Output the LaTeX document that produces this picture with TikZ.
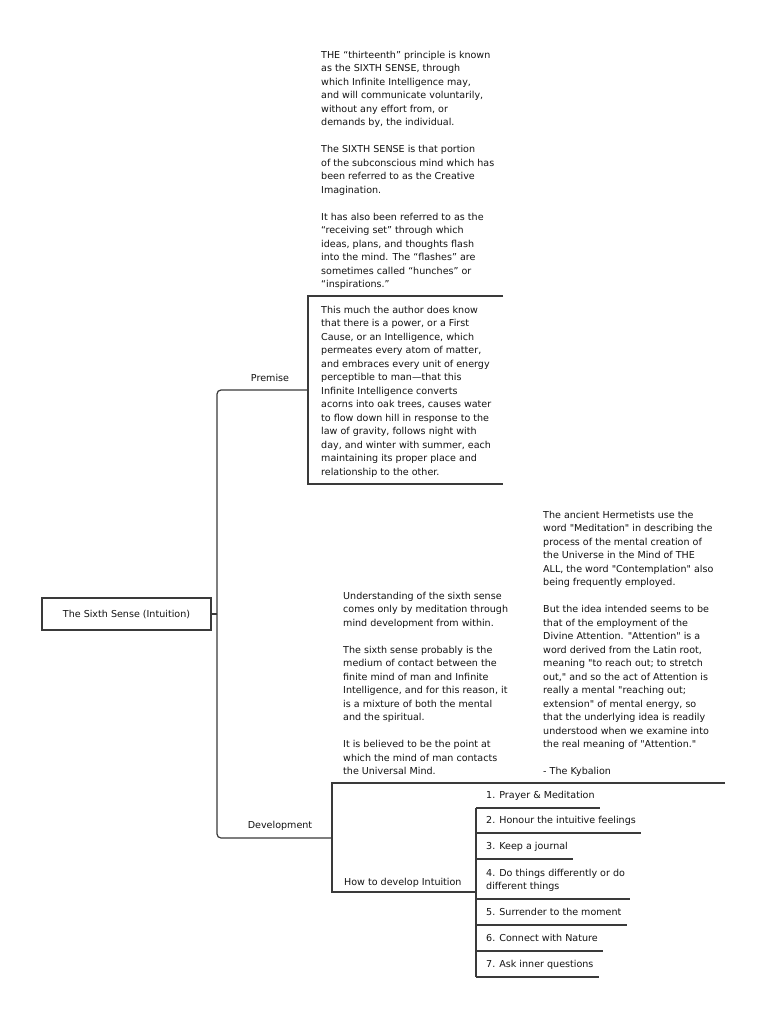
\documentclass[tikz,border=0pt]{standalone}
\usepackage{fontspec}
\setmainfont{DejaVu Sans}
\usepackage{xcolor}
\usetikzlibrary{positioning,calc}
\definecolor{mmLine}{RGB}{58,58,58}
\definecolor{mmText}{RGB}{20,20,20}
\newcommand{\dq}{\textquotedbl}

\begin{document}
\begin{tikzpicture}[
  x=1bp, y=-1bp,
  txt/.style={font=\fontsize{9.6}{13.55}\selectfont, text=mmText, inner sep=0pt},
  note/.style={txt, align=left, anchor=north west},
  rootbox/.style={txt, draw=mmLine, line width=1.2bp, minimum width=169bp, minimum height=32bp},
  lbl/.style={txt, anchor=base},
  item/.style={txt, align=left, anchor=south west, inner xsep=5bp, inner ysep=0pt, text depth=9bp},
  conn/.style={draw=mmLine, line width=1.2bp, rounded corners=4bp}
]
\fill[white] (0,0) rectangle (768,1024);
\useasboundingbox (0,0) rectangle (768,1024);
\node[rootbox] (root) at (126.5,614) {The Sixth Sense (Intuition)};
\node[lbl] (premise) at (270,381) {Premise};
\node[lbl] (development) at (280,828) {Development};
\node[note] (premNote) at (321,50.7) {THE “thirteenth” principle is known\\
as the SIXTH SENSE, through\\
which Infinite Intelligence may,\\
and will communicate voluntarily,\\
without any effort from, or\\
demands by, the individual.\\[13.55bp]
The SIXTH SENSE is that portion\\
of the subconscious mind which has\\
been referred to as the Creative\\
Imagination.\\[13.55bp]
It has also been referred to as the\\
“receiving set” through which\\
ideas, plans, and thoughts flash\\
into the mind. The “flashes” are\\
sometimes called “hunches” or\\
“inspirations.”};
\node[note] (premDetail) at (321,305.7) {This much the author does know\\
that there is a power, or a First\\
Cause, or an Intelligence, which\\
permeates every atom of matter,\\
and embraces every unit of energy\\
perceptible to man—that this\\
Infinite Intelligence converts\\
acorns into oak trees, causes water\\
to flow down hill in response to the\\
law of gravity, follows night with\\
day, and winter with summer, each\\
maintaining its proper place and\\
relationship to the other.};
\node[note] (devNote) at (343,591.7) {Understanding of the sixth sense\\
comes only by meditation through\\
mind development from within.\\[13.55bp]
The sixth sense probably is the\\
medium of contact between the\\
finite mind of man and Infinite\\
Intelligence, and for this reason, it\\
is a mixture of both the mental\\
and the spiritual.\\[13.55bp]
It is believed to be the point at\\
which the mind of man contacts\\
the Universal Mind.};
\node[note] (kybalion) at (543,510.7) {The ancient Hermetists use the\\
word \dq Meditation\dq{} in describing the\\
process of the mental creation of\\
the Universe in the Mind of THE\\
ALL, the word \dq Contemplation\dq{} also\\
being frequently employed.\\[13.55bp]
But the idea intended seems to be\\
that of the employment of the\\
Divine Attention. \dq Attention\dq{} is a\\
word derived from the Latin root,\\
meaning \dq to reach out; to stretch\\
out,\dq{} and so the act of Attention is\\
really a mental \dq reaching out;\\
extension\dq{} of mental energy, so\\
that the underlying idea is readily\\
understood when we examine into\\
the real meaning of \dq Attention.\dq\\[13.55bp]
- The Kybalion};
\node[txt, anchor=base west] (howto) at (344,885) {How to develop Intuition};
\foreach \n/\y/\t in {1/808/{1. Prayer \& Meditation}, 2/833/{2. Honour the intuitive feelings},
  3/859/{3. Keep a journal}, 4/899/{4. Do things differently or do\\different things},
  5/925/{5. Surrender to the moment}, 6/951/{6. Connect with Nature}, 7/977/{7. Ask inner questions}}
  \node[item] (item\n) at (481,\y) {\t};
\coordinate (trunk) at (217,614);
\coordinate (premJoin) at (308,390);
\coordinate (devJoin) at (332,838);
\coordinate (premTL) at (308,296);
\coordinate (premTR) at (503,296);
\coordinate (premBL) at (308,484);
\coordinate (premBR) at (503,484);
\coordinate (devTL) at (332,783);
\coordinate (devTR) at (725,783);
\coordinate (devBL) at (332,892);
\coordinate (devBR) at (476,892);
\draw[conn] (root.east) -- (trunk);
\draw[conn] (trunk) |- (premJoin);
\draw[conn] (trunk) |- (devJoin);
\draw[conn, rounded corners=0] (premTR) -- (premTL) -- (premBL) -- (premBR);
\draw[conn, rounded corners=0] (devTR) -- (devTL) -- (devBL) -- (devBR);
\draw[conn, rounded corners=0] (devBR |- item1.south) -- (devBR |- item7.south);
\foreach \n in {1,...,7}
  \draw[conn] (devBR |- item\n.south) -- (item\n.south east);
\end{tikzpicture}
\end{document}
